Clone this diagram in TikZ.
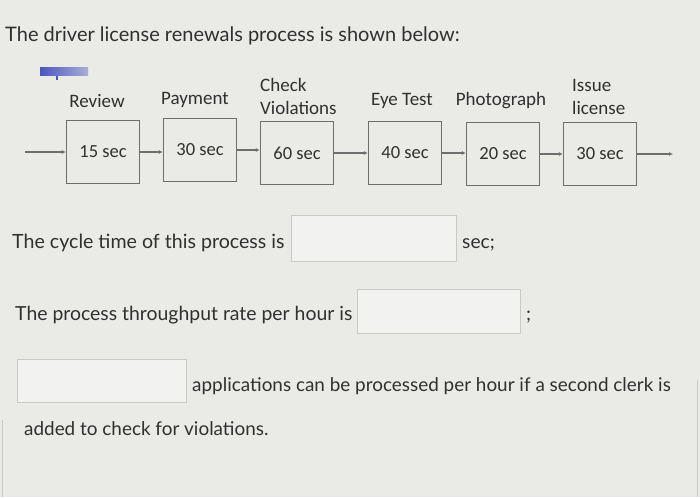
\documentclass[tikz,border=0pt]{standalone}
\usepackage{fontspec}
\setmainfont{Lato}
\newfontfamily\diagfont{Carlito}
\usetikzlibrary{arrows.meta}
\definecolor{bgc}{HTML}{EAEAE7}
\definecolor{txt}{HTML}{303030}
\definecolor{boxc}{HTML}{6E6E6E}
\definecolor{inpc}{HTML}{C9C9C6}
\definecolor{smudge}{HTML}{4A55C0}
\tikzset{
  stepbox/.style={draw=boxc, line width=1.4pt, minimum width=73pt, minimum height=63pt, inner sep=0pt, font=\diagfont\fontsize{18.5}{18}\selectfont, text=txt},
  steplabel/.style={font=\diagfont\fontsize{19}{23}\selectfont, text=txt, align=left, inner sep=0pt},
  flow/.style={draw=boxc, line width=1.2pt, -{Latex[length=4pt,width=4pt]}},
  inputbox/.style={draw=inpc, fill=bgc!60!white, line width=0.9pt, inner sep=0pt},
  qtext/.style={font=\fontsize{19.2}{19}\selectfont, text=txt, inner sep=0pt, anchor=base west},
}
\begin{document}
\begin{tikzpicture}[x=1pt,y=-1pt]
\fill[bgc] (0,0) rectangle (700,497);
\useasboundingbox (0,0) rectangle (700,497);
% title
\node[qtext, font=\fontsize{20}{20}\selectfont] (title) at (5,42) {The driver license renewals process is shown below:};
% blue smudge
\shade[left color=smudge, right color=smudge!40!bgc] (40,68) rectangle (88,76);
\fill[smudge] (56,76) rectangle (58,80);
% boxes
\node[stepbox] (b1) at (103,152) {15 sec};
\node[stepbox] (b2) at (200,150) {30 sec};
\node[stepbox] (b3) at (297,153) {60 sec};
\node[stepbox] (b4) at (405,153) {40 sec};
\node[stepbox] (b5) at (503,154) {20 sec};
\node[stepbox] (b6) at (600,154) {30 sec};
% labels
\node[steplabel, anchor=base] (l1) at (97,108) {Review};
\node[steplabel, anchor=base] (l2) at (195,105) {Payment};
\node[steplabel, anchor=base west] (l3) at (260,115) {Check\\Violations};
\node[steplabel, anchor=base] (l4) at (402,106) {Eye Test};
\node[steplabel, anchor=base] (l5) at (501,106) {Photograph};
\node[steplabel, anchor=base west] (l6) at (572,115) {Issue\\license};
% flows
\coordinate (in) at (25,152);
\coordinate (out) at (673,154);
\draw[flow] (in) -- (b1.west);
\draw[flow] (b1.east) -- (b2.west |- b1.east);
\draw[flow] (b2.east) -- (b3.west |- b2.east);
\draw[flow] (b3.east) -- (b4.west |- b3.east);
\draw[flow] (b4.east) -- (b5.west |- b4.east);
\draw[flow] (b5.east) -- (b6.west |- b5.east);
\draw[flow] (b6.east) -- (out);
% questions
\node[qtext, font=\fontsize{19.6}{19}\selectfont] (q1) at (12,248) {The cycle time of this process is};
\node[inputbox, minimum width=165pt, minimum height=46pt] (i1) at (373.5,238) {};
\node[qtext] (s1) at (462,248) {sec;};
\node[qtext, font=\fontsize{19.4}{19}\selectfont] (q2) at (15,320) {The process throughput rate per hour is};
\node[inputbox, minimum width=163pt, minimum height=44pt] (i2) at (438.5,311) {};
\node[qtext] (s2) at (526,320) {;};
\node[inputbox, minimum width=169pt, minimum height=43pt] (i3) at (101.5,380.5) {};
\node[qtext, font=\fontsize{18.9}{19}\selectfont] (q3) at (192,391) {applications can be processed per hour if a second clerk is};
\node[qtext, font=\fontsize{18.9}{19}\selectfont] (q4) at (24,435) {added to check for violations.};
% faint panel border
\draw[inpc, line width=0.8pt] (2,420) -- (2,497);
\draw[inpc, line width=0.8pt] (697,380) -- (697,497);
\end{tikzpicture}
\end{document}
